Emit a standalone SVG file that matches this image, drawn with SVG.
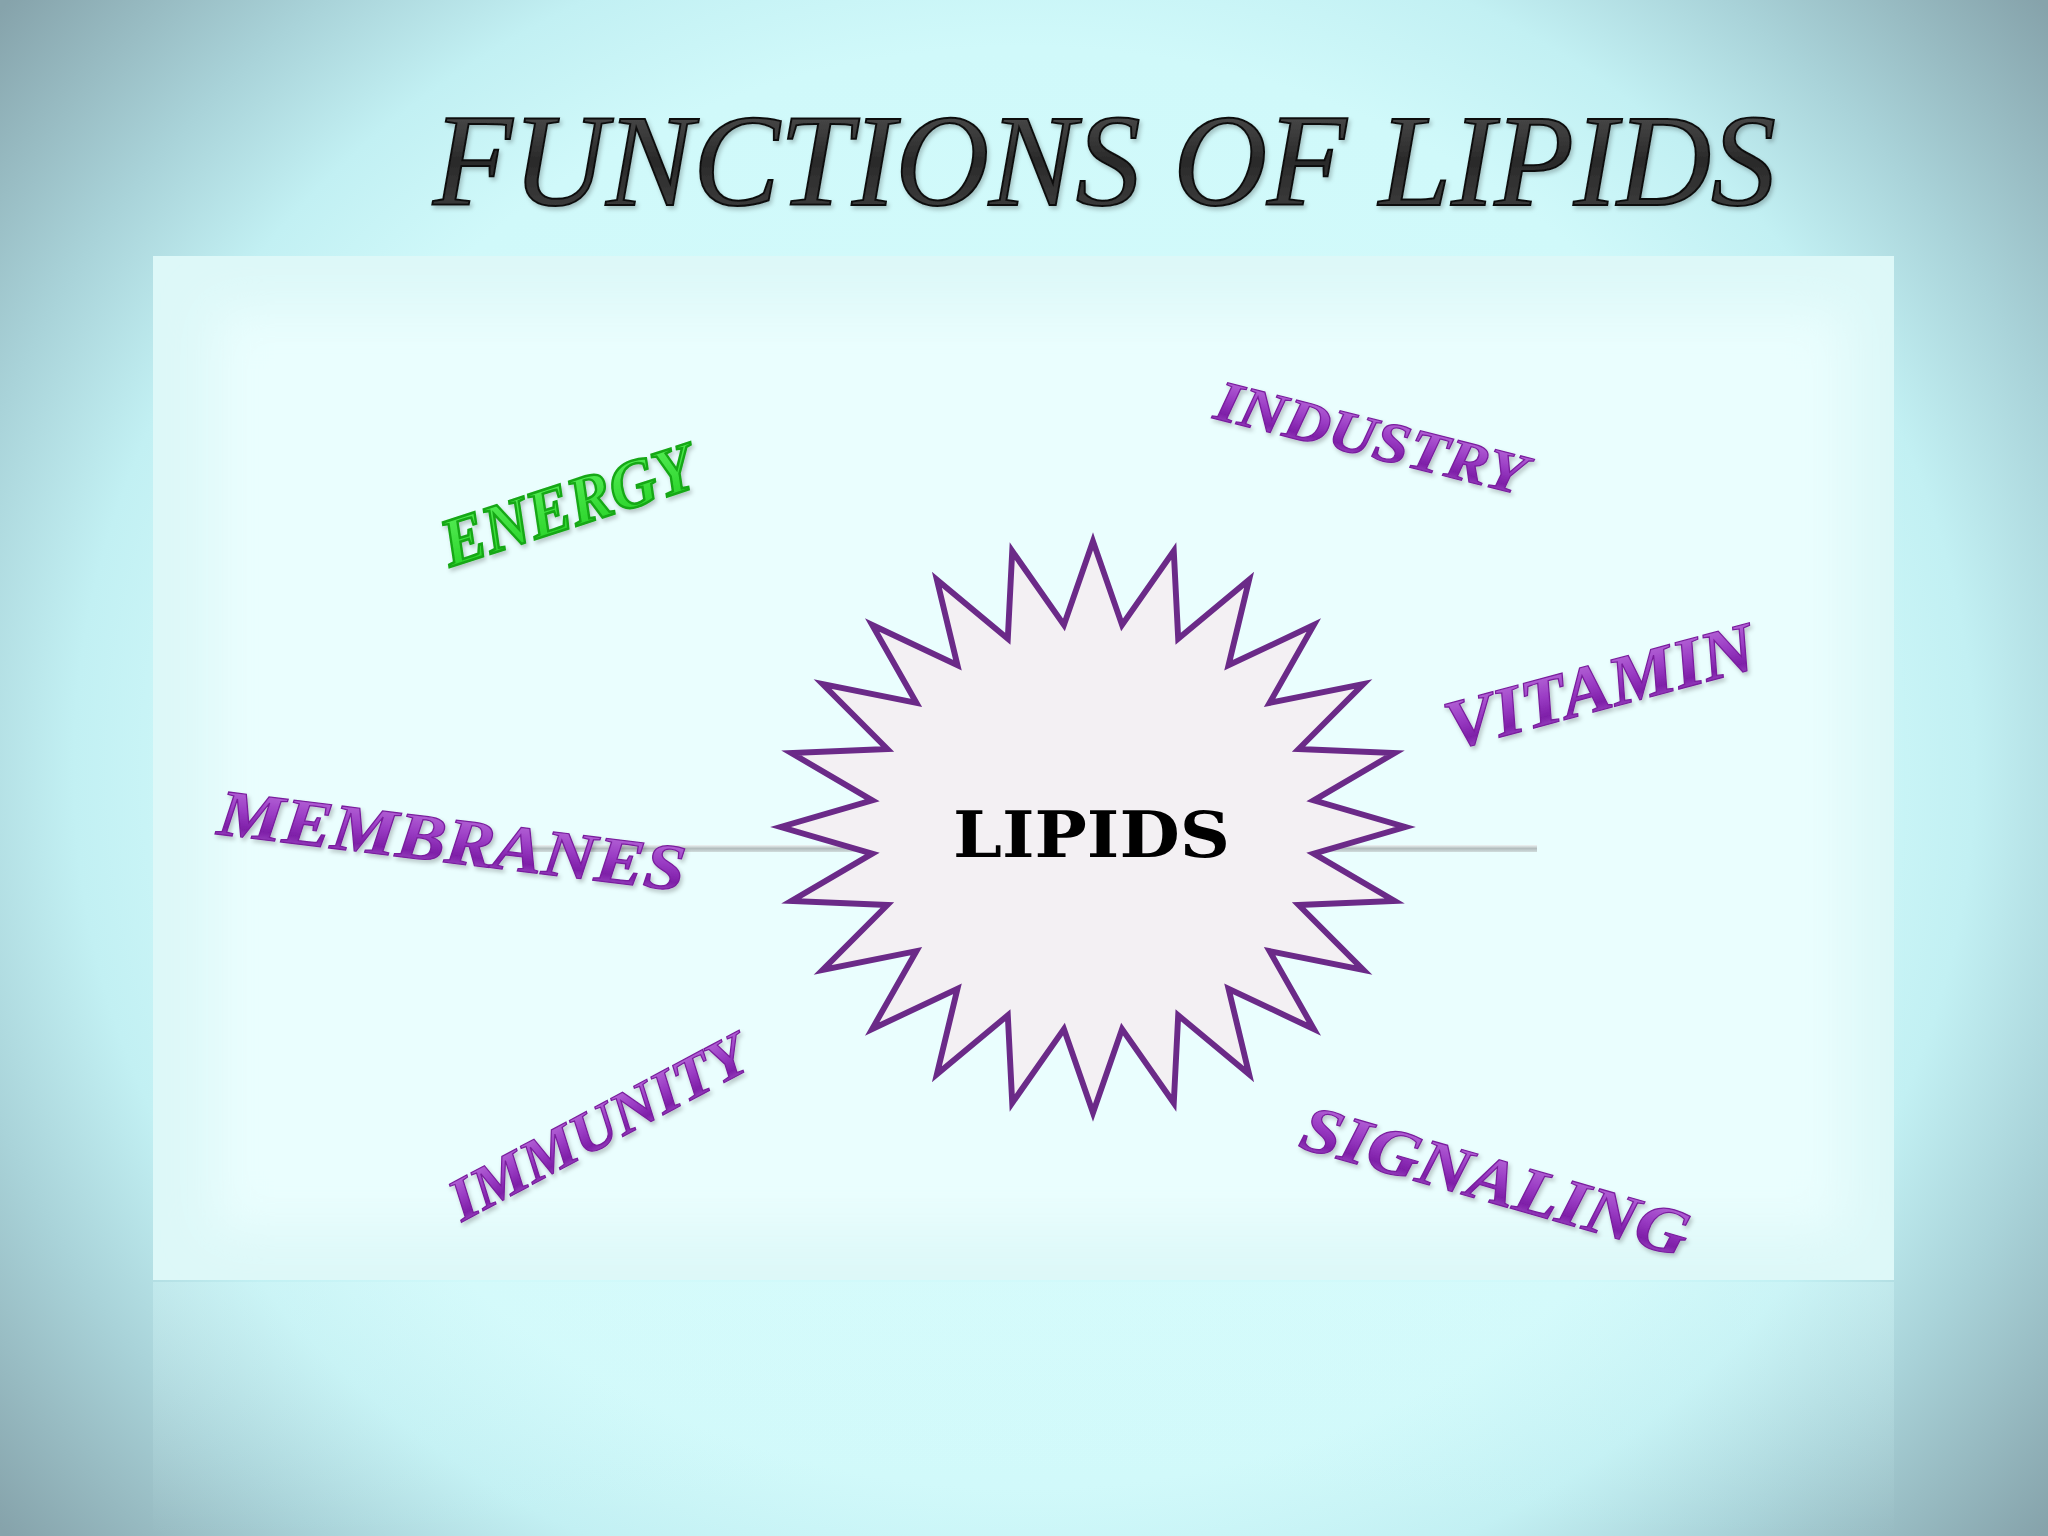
<svg xmlns="http://www.w3.org/2000/svg" width="2048" height="1536" viewBox="0 0 2048 1536">
  <defs>
    <radialGradient id="bg" gradientUnits="userSpaceOnUse" cx="1024" cy="768" r="1320" gradientTransform="translate(1024 768) scale(1 0.91) translate(-1024 -768)">
      <stop offset="0" stop-color="#d4fcfc"/>
      <stop offset="0.6" stop-color="#d0f9fa"/>
      <stop offset="0.72" stop-color="#c2f0f3"/>
      <stop offset="0.83" stop-color="#a9d3d9"/>
      <stop offset="1" stop-color="#86a3ab"/>
    </radialGradient>
    <linearGradient id="reflect" x1="0" y1="0" x2="0" y2="1">
      <stop offset="0" stop-color="#dcfcfc" stop-opacity="0.35"/>
      <stop offset="1" stop-color="#dcfcfc" stop-opacity="0"/>
    </linearGradient>
    <linearGradient id="titleFill" x1="0" y1="0" x2="0" y2="1">
      <stop offset="0" stop-color="#5a5a5a"/>
      <stop offset="0.5" stop-color="#2a2a2a"/>
      <stop offset="1" stop-color="#444"/>
    </linearGradient>
    <linearGradient id="purple" x1="0" y1="0" x2="0" y2="1">
      <stop offset="0" stop-color="#c27ae0"/>
      <stop offset="0.45" stop-color="#9a3cc4"/>
      <stop offset="0.7" stop-color="#7e1fa8"/>
      <stop offset="1" stop-color="#b466d8"/>
    </linearGradient>
    <linearGradient id="green" x1="0" y1="0" x2="0" y2="1">
      <stop offset="0" stop-color="#5cf05c"/>
      <stop offset="1" stop-color="#22d022"/>
    </linearGradient>
    <linearGradient id="rule" x1="0" y1="0" x2="0" y2="1">
      <stop offset="0" stop-color="#eef4f4"/>
      <stop offset="0.5" stop-color="#b3bdbe"/>
      <stop offset="1" stop-color="#d0dcdc"/>
    </linearGradient>
    <filter id="soft" x="-5%" y="-5%" width="110%" height="110%">
      <feGaussianBlur stdDeviation="25"/>
    </filter>
    <filter id="shadow" x="-10%" y="-30%" width="120%" height="160%">
      <feGaussianBlur in="SourceAlpha" stdDeviation="2"/>
      <feOffset dx="2" dy="3" result="b"/>
      <feFlood flood-color="#000" flood-opacity="0.22"/>
      <feComposite in2="b" operator="in"/>
      <feMerge><feMergeNode/><feMergeNode in="SourceGraphic"/></feMerge>
    </filter>
    <style>
      .title { font-family: "Liberation Serif", "DejaVu Serif", serif; font-style: italic; font-size: 132px; fill: url(#titleFill); stroke: #111; stroke-width: 2; }
      .lbl { font-family: "Liberation Serif", "DejaVu Serif", serif; font-style: italic; font-weight: bold; fill: url(#purple); stroke: #7a1e9e; stroke-width: 1.2; }
      .energy { font-family: "Liberation Serif", "DejaVu Serif", serif; font-style: italic; font-weight: bold; fill: url(#green); stroke: #16a816; stroke-width: 2.5; }
      .center { font-family: "DejaVu Serif", "Liberation Serif", serif; font-weight: bold; font-size: 64px; fill: #000; }
      .star { fill: #f3f0f3; stroke: #6b2a88; stroke-width: 6; stroke-linejoin: miter; }
    </style>
  </defs>

  <!-- background -->
  <rect x="0" y="0" width="2048" height="1536" fill="url(#bg)"/>
  <rect x="153" y="1282" width="1741" height="254" fill="url(#reflect)"/>
  <rect x="153" y="256" width="1741" height="1024" fill="#ddf8f8"/>
  <rect x="215" y="310" width="1630" height="920" fill="#eafefe" filter="url(#soft)"/>

  <!-- title -->
  <g id="title" filter="url(#shadow)">
    <text class="title" x="433" y="205" textLength="1343" lengthAdjust="spacingAndGlyphs">FUNCTIONS OF LIPIDS</text>
  </g>

  <!-- connectors -->
  <g id="connectors">
    <rect x="530" y="845" width="340" height="7" fill="url(#rule)"/>
    <rect x="1320" y="845" width="217" height="7" fill="url(#rule)"/>
  </g>

  <!-- central node -->
  <g id="node-lipids">
    <polygon class="star" transform="translate(1093 827) scale(0.985) translate(-1093 -827)" points="1093,537 1122.5,621.8 1175,546.9 1179.5,635.8 1251.5,575.9 1230.6,662.8 1317.2,621.9 1272.3,701 1367.5,682 1301.8,747.8 1399.2,751.9 1317.1,800 1410,827 1317.1,854 1399.2,902.1 1301.8,906.2 1367.5,972 1272.3,953 1317.2,1032.1 1230.6,991.2 1251.5,1078.1 1179.5,1018.2 1175,1107.1 1122.5,1032.2 1093,1117 1063.5,1032.2 1011,1107.1 1006.5,1018.2 934.5,1078.1 955.4,991.2 868.8,1032.1 913.7,953 818.5,972 884.2,906.2 786.8,902.1 868.9,854 776,827 868.9,800 786.8,751.9 884.2,747.8 818.5,682 913.7,701 868.8,621.9 955.4,662.8 934.5,575.9 1006.5,635.8 1011,546.9 1063.5,621.8"/>
    <text class="center" x="953" y="857" textLength="277" lengthAdjust="spacingAndGlyphs">LIPIDS</text>
  </g>

  <!-- labels -->
  <g id="node-energy" filter="url(#shadow)">
    <text class="energy" font-size="68" transform="translate(450 567) rotate(-18)" textLength="262" lengthAdjust="spacingAndGlyphs">ENERGY</text>
  </g>
  <g id="node-industry" filter="url(#shadow)">
    <text class="lbl" font-size="58" transform="translate(1212 418) rotate(14)" textLength="318" lengthAdjust="spacingAndGlyphs">INDUSTRY</text>
  </g>
  <g id="node-vitamin" filter="url(#shadow)">
    <text class="lbl" font-size="70" transform="translate(1452 750) rotate(-15)" textLength="318" lengthAdjust="spacingAndGlyphs">VITAMIN</text>
  </g>
  <g id="node-membranes" filter="url(#shadow)">
    <text class="lbl" font-size="66" transform="translate(216 834) rotate(7)" textLength="470" lengthAdjust="spacingAndGlyphs">MEMBRANES</text>
  </g>
  <g id="node-immunity" filter="url(#shadow)">
    <text class="lbl" font-size="60" transform="translate(462 1222) rotate(-28)" textLength="330" lengthAdjust="spacingAndGlyphs">IMMUNITY</text>
  </g>
  <g id="node-signaling" filter="url(#shadow)">
    <text class="lbl" font-size="66" transform="translate(1297 1147) rotate(16)" textLength="400" lengthAdjust="spacingAndGlyphs">SIGNALING</text>
  </g>
</svg>
